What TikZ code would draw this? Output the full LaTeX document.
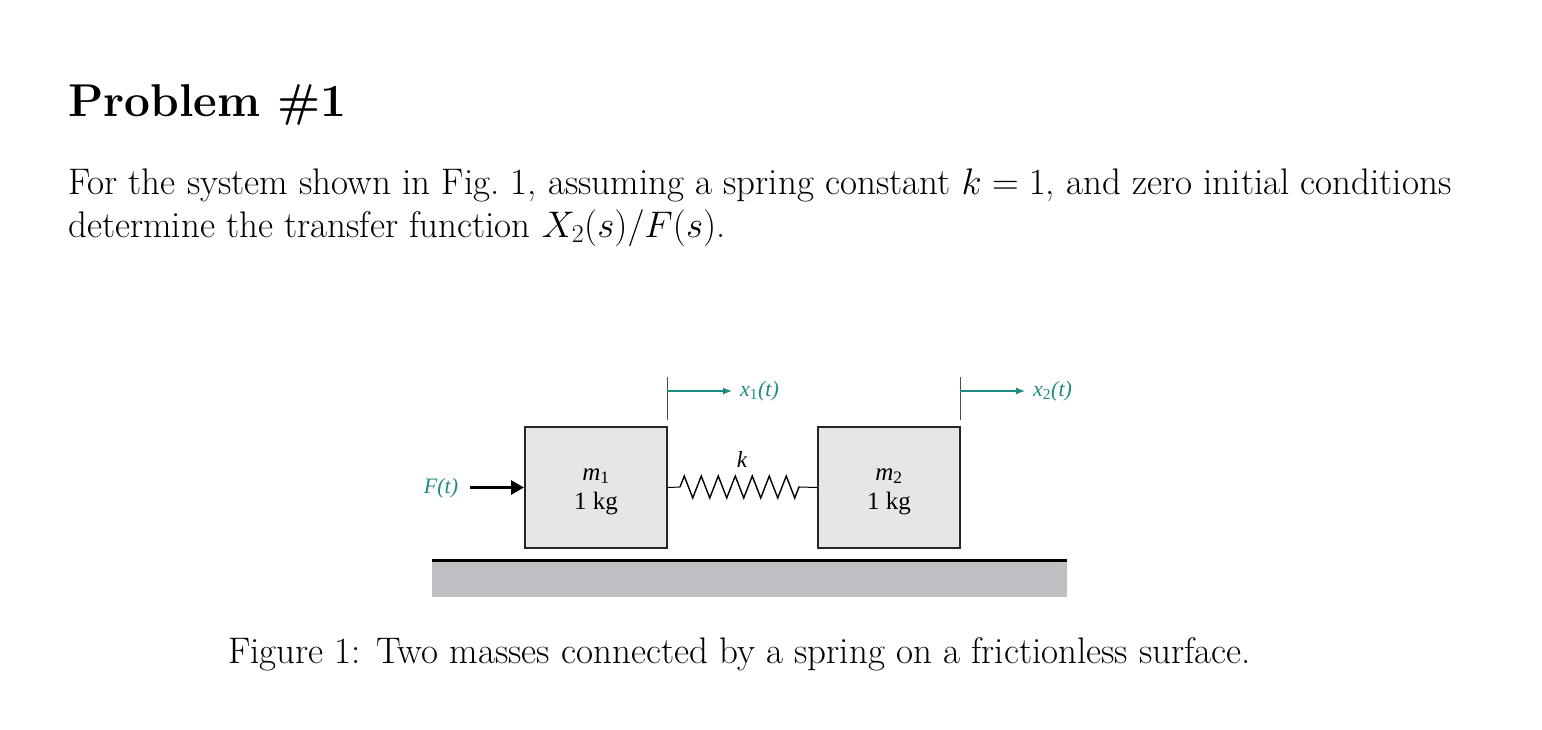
\RequirePackage{fix-cm}
\documentclass[tikz,border=0pt]{standalone}
\usepackage{fontspec}
\newfontfamily\tnr{Liberation Serif}
\usetikzlibrary{decorations.pathmorphing,arrows.meta}
\definecolor{teal1}{RGB}{30,140,128}
\definecolor{massg}{RGB}{230,230,230}
\definecolor{groundg}{RGB}{190,190,195}
\begin{document}
\begin{tikzpicture}[x=1pt,y=-1pt,
  body/.style={anchor=base west,inner sep=0,font=\fontsize{37}{45}\selectfont},
  mass/.style={draw=black!85,line width=2pt,fill=massg,minimum width=142pt,minimum height=121pt,inner sep=0},
  mtxt/.style={inner sep=0,font=\tnr\fontsize{25}{27}\selectfont},
  lbl/.style={text=teal1,font=\tnr\itshape\fontsize{22}{24}\selectfont,inner sep=0},
  disp/.style={teal1,line width=1.2pt,-{Latex[length=9pt,width=7pt]}},
  tick/.style={black!70,line width=1pt}]
\useasboundingbox (0,0) rectangle (1542,730);
\node[anchor=base west,inner sep=0,font=\bfseries\fontsize{46}{55}\selectfont] (h) at (68,117) {Problem \#1};
\node[body] (l1) at (68,195) {For the system shown in Fig.~1, assuming a spring constant $k=1$, and zero initial conditions};
\node[body] (l2) at (68,237) {determine the transfer function $X_2(s)/F(s)$.};
% ground
\fill[groundg] (432,561) rectangle (1067,597);
\draw[line width=3pt] (432,560) -- (1067,560);
% masses
\node[mass] (m1) at (596,487.5) {};
\node[mass] (m2) at (889,487.5) {};
\node[mtxt] (m1a) at (596,476) {\itshape m\textsubscript{\upshape 1}};
\node[mtxt] (m1b) at (596,504) {1 kg};
\node[mtxt] (m2a) at (889,476) {\itshape m\textsubscript{\upshape 2}};
\node[mtxt] (m2b) at (889,504) {1 kg};
% spring
\coordinate (s1) at (680,487);
\coordinate (s2) at (800,487);
\draw[line width=1pt] (m1.east) -- (s1);
\draw[line width=1.4pt,decorate,decoration={zigzag,segment length=17pt,amplitude=11pt}] (s1) -- (s2);
\draw[line width=1pt] (s2) -- (m2.west);
\node[font=\tnr\itshape\fontsize{23}{25}\selectfont,inner sep=0] (k) at (742,460) {k};
% force
\node[lbl] (F) at (441,488) {F(t)};
\coordinate (fa) at (470,487.5);
\draw[line width=3pt,-{Triangle[length=13pt,width=14pt]}] (fa) -- (m1.west);
% displacements
\coordinate (t1a) at (667,377); \coordinate (t1b) at (667,420);
\draw[tick] (t1a) -- (t1b);
\coordinate (a1) at (667,391);
\node[lbl,anchor=west] (x1) at (740,391) {x\textsubscript{\upshape 1}(t)};
\draw[disp] (a1) -- ([xshift=-8pt]x1.west);
\coordinate (t2a) at (960,377); \coordinate (t2b) at (960,420);
\draw[tick] (t2a) -- (t2b);
\coordinate (a2) at (960,391);
\node[lbl,anchor=west] (x2) at (1033,391) {x\textsubscript{\upshape 2}(t)};
\draw[disp] (a2) -- ([xshift=-8pt]x2.west);
\node[body] (cap) at (228,663) {Figure 1: Two masses connected by a spring on a frictionless surface.};
\end{tikzpicture}
\end{document}
